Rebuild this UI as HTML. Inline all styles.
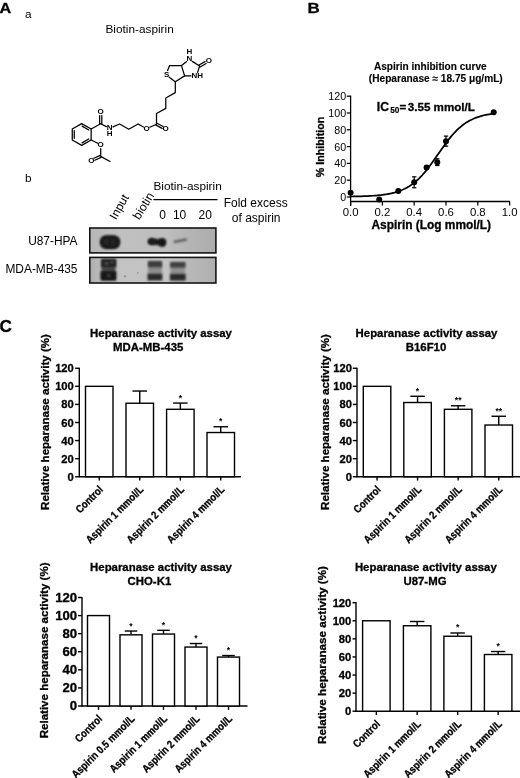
<!DOCTYPE html>
<html><head><meta charset="utf-8"><title>Figure</title>
<style>
html,body{margin:0;padding:0;background:#fff;}
svg{display:block;}
svg text{font-family:"Liberation Sans", Arial, sans-serif;fill:#000;}
</style></head><body>
<svg width="520" height="778" viewBox="0 0 520 778">
<rect width="520" height="778" fill="#fff"/>
<text transform="translate(-0.50 13.20) rotate(0) scale(1.08 1)" font-size="15" font-weight="bold" text-anchor="start" stroke="#000" stroke-width="0.3">A</text>
<text transform="translate(307.40 13.20) rotate(0) scale(1.1 1)" font-size="15.4" font-weight="bold" text-anchor="start" stroke="#000" stroke-width="0.3">B</text>
<text transform="translate(-0.60 332.40) rotate(0) scale(1.04 1)" font-size="16.5" font-weight="bold" text-anchor="start" stroke="#000" stroke-width="0.3">C</text>
<text x="25.00" y="17.50" font-size="11.8" font-weight="normal" text-anchor="start">a</text>
<text x="25.00" y="182.00" font-size="11.8" font-weight="normal" text-anchor="start">b</text>
<text x="105.50" y="32.50" font-size="11.8" font-weight="normal" text-anchor="start">Biotin-aspirin</text>
<path d="M81.70 123.60 L91.14 129.05 L91.14 139.95 L81.70 145.40 L72.26 139.95 L72.26 129.05 L81.70 123.60" fill="none" stroke="#000" stroke-width="1.25" stroke-linejoin="round" stroke-linecap="round"/>
<path d="M82.09 126.13 L88.75 129.98" fill="none" stroke="#000" stroke-width="1.25" stroke-linejoin="round" stroke-linecap="round"/>
<path d="M88.75 139.02 L82.09 142.87" fill="none" stroke="#000" stroke-width="1.25" stroke-linejoin="round" stroke-linecap="round"/>
<path d="M74.26 138.35 L74.26 130.65" fill="none" stroke="#000" stroke-width="1.25" stroke-linejoin="round" stroke-linecap="round"/>
<path d="M91.14 129.05 L100.70 123.80" fill="none" stroke="#000" stroke-width="1.25" stroke-linejoin="round" stroke-linecap="round"/>
<path d="M99.60 123.80 L99.60 115.60" fill="none" stroke="#000" stroke-width="1.25" stroke-linejoin="round" stroke-linecap="round"/>
<path d="M101.80 123.80 L101.80 115.60" fill="none" stroke="#000" stroke-width="1.25" stroke-linejoin="round" stroke-linecap="round"/>
<text x="100.70" y="114.10" font-size="8.0" font-weight="bold" text-anchor="middle">O</text>
<path d="M100.70 123.80 L106.30 126.60" fill="none" stroke="#000" stroke-width="1.25" stroke-linejoin="round" stroke-linecap="round"/>
<text x="109.70" y="129.80" font-size="8.0" font-weight="bold" text-anchor="middle">N</text>
<text x="109.70" y="136.30" font-size="8.0" font-weight="bold" text-anchor="middle">H</text>
<path d="M113.00 126.90 L119.60 124.00 L128.80 129.20 L138.10 124.00 L143.40 127.00" fill="none" stroke="#000" stroke-width="1.25" stroke-linejoin="round" stroke-linecap="round"/>
<text x="146.60" y="130.80" font-size="8.0" font-weight="bold" text-anchor="middle">O</text>
<path d="M91.14 139.95 L97.80 143.30" fill="none" stroke="#000" stroke-width="1.25" stroke-linejoin="round" stroke-linecap="round"/>
<text x="100.70" y="146.80" font-size="8.0" font-weight="bold" text-anchor="middle">O</text>
<path d="M100.70 148.60 L100.70 156.40 L110.00 161.50" fill="none" stroke="#000" stroke-width="1.25" stroke-linejoin="round" stroke-linecap="round"/>
<path d="M101.15 157.40 L94.75 160.30" fill="none" stroke="#000" stroke-width="1.25" stroke-linejoin="round" stroke-linecap="round"/>
<path d="M100.25 155.40 L93.85 158.30" fill="none" stroke="#000" stroke-width="1.25" stroke-linejoin="round" stroke-linecap="round"/>
<text x="91.40" y="163.20" font-size="8.0" font-weight="bold" text-anchor="middle">O</text>
<path d="M149.80 127.20 L156.50 124.20 L156.50 113.50 L165.80 108.40 L165.80 98.00 L175.30 92.60 L175.30 81.70" fill="none" stroke="#000" stroke-width="1.25" stroke-linejoin="round" stroke-linecap="round"/>
<path d="M157.01 123.23 L163.11 126.43" fill="none" stroke="#000" stroke-width="1.25" stroke-linejoin="round" stroke-linecap="round"/>
<path d="M155.99 125.17 L162.09 128.37" fill="none" stroke="#000" stroke-width="1.25" stroke-linejoin="round" stroke-linecap="round"/>
<text x="165.60" y="131.00" font-size="8.0" font-weight="bold" text-anchor="middle">O</text>
<path d="M175.30 81.70 L169.20 77.20" fill="none" stroke="#000" stroke-width="1.25" stroke-linejoin="round" stroke-linecap="round"/>
<text x="166.60" y="76.80" font-size="8.0" font-weight="bold" text-anchor="middle">S</text>
<path d="M167.60 70.60 L169.60 65.60 L181.50 65.60 L184.60 75.90 L175.30 81.70" fill="none" stroke="#000" stroke-width="1.25" stroke-linejoin="round" stroke-linecap="round"/>
<path d="M181.50 65.60 L186.40 61.70" fill="none" stroke="#000" stroke-width="1.25" stroke-linejoin="round" stroke-linecap="round"/>
<text x="189.30" y="61.40" font-size="8.0" font-weight="bold" text-anchor="middle">N</text>
<text x="189.30" y="53.60" font-size="8.0" font-weight="bold" text-anchor="middle">H</text>
<path d="M192.20 61.40 L199.60 66.00 L197.60 72.40" fill="none" stroke="#000" stroke-width="1.25" stroke-linejoin="round" stroke-linecap="round"/>
<path d="M199.06 65.04 L205.06 61.64" fill="none" stroke="#000" stroke-width="1.25" stroke-linejoin="round" stroke-linecap="round"/>
<path d="M200.14 66.96 L206.14 63.56" fill="none" stroke="#000" stroke-width="1.25" stroke-linejoin="round" stroke-linecap="round"/>
<text x="208.90" y="63.00" font-size="8.0" font-weight="bold" text-anchor="middle">O</text>
<path d="M184.60 75.90 L191.00 75.90" fill="none" stroke="#000" stroke-width="1.25" stroke-linejoin="round" stroke-linecap="round"/>
<text x="197.20" y="78.10" font-size="8.0" font-weight="bold" text-anchor="middle">NH</text>
<defs>
<filter id="b1" filterUnits="userSpaceOnUse" x="80" y="220" width="150" height="70"><feGaussianBlur stdDeviation="1.25"/></filter>
<filter id="b2" filterUnits="userSpaceOnUse" x="80" y="220" width="150" height="70"><feGaussianBlur stdDeviation="0.85"/></filter>
<filter id="b3" filterUnits="userSpaceOnUse" x="80" y="220" width="150" height="70"><feGaussianBlur stdDeviation="0.55"/></filter>
<linearGradient id="g1" x1="0" x2="1" y1="0" y2="0"><stop offset="0" stop-color="#b6b6b6"/><stop offset="0.25" stop-color="#c0c0c0"/><stop offset="0.6" stop-color="#bebebe"/><stop offset="0.8" stop-color="#b4b4b4"/><stop offset="1" stop-color="#adadad"/></linearGradient>
<linearGradient id="g2" x1="0" x2="1" y1="0" y2="0"><stop offset="0" stop-color="#adadad"/><stop offset="0.12" stop-color="#c2c2c2"/><stop offset="0.6" stop-color="#c4c4c4"/><stop offset="0.8" stop-color="#b8b8b8"/><stop offset="1" stop-color="#b0b0b0"/></linearGradient>
<clipPath id="c1"><rect x="90" y="228" width="126" height="25"/></clipPath>
<clipPath id="c2"><rect x="90" y="257.3" width="126" height="25.7"/></clipPath>
</defs>
<rect x="89.7" y="228" width="126.3" height="25" fill="url(#g1)"/>
<g clip-path="url(#c1)">
<rect x="99.9" y="235.3" width="20.2" height="13.6" rx="6.4" ry="6" fill="#161616" filter="url(#b1)"/>
<rect x="101.4" y="236.9" width="17.4" height="10.8" rx="5.4" ry="5" fill="#1c1c1c" filter="url(#b2)"/>
<ellipse cx="106.5" cy="242" rx="1.1" ry="3.4" fill="#2e2e2e" filter="url(#b2)"/>
<ellipse cx="112.5" cy="242" rx="1.1" ry="3.4" fill="#2c2c2c" filter="url(#b2)"/>
<path d="M151 241.7 L162.5 242.4" stroke="#1b1b1b" stroke-width="6.2" stroke-linecap="round" fill="none" filter="url(#b2)"/>
<ellipse cx="151.8" cy="241.6" rx="3.4" ry="3.0" fill="#1a1a1a" filter="url(#b2)"/>
<ellipse cx="162.3" cy="242.5" rx="3.6" ry="4.2" fill="#171717" filter="url(#b2)"/>
<path d="M174.6 241.9 L185.8 239.7" stroke="#555" stroke-width="2.3" stroke-linecap="round" fill="none" filter="url(#b2)"/>
</g>
<rect x="89.8" y="228.0" width="126.1" height="24.9" fill="none" stroke="#141414" stroke-width="1.6"/>
<rect x="89.7" y="257.3" width="126.3" height="25.7" fill="url(#g2)"/>
<g clip-path="url(#c2)">
<rect x="101.5" y="259.5" width="14" height="21" fill="#4a4a4a" filter="url(#b1)"/>
<rect x="101.3" y="259" width="14.8" height="8.2" fill="#242424" filter="url(#b1)"/>
<rect x="100.6" y="271.2" width="15.6" height="9" fill="#161616" filter="url(#b1)"/>
<rect x="104.5" y="262.3" width="4" height="2.2" fill="#5c5c5c" filter="url(#b2)"/>
<rect x="110.5" y="261" width="3" height="2.2" fill="#555" filter="url(#b2)"/>
<rect x="107" y="274.5" width="3.4" height="2.4" fill="#4a4a4a" filter="url(#b2)"/>
<circle cx="125" cy="276.2" r="1" fill="#8a8a8a" filter="url(#b3)"/>
<circle cx="137.8" cy="272.8" r="0.9" fill="#9a9a9a" filter="url(#b3)"/>
<rect x="148" y="262" width="14" height="17" fill="#8e8e8e" filter="url(#b1)"/>
<rect x="148" y="261" width="14" height="6.2" fill="#3e3e3e" filter="url(#b1)"/>
<rect x="147.6" y="273.8" width="14.6" height="6.6" fill="#2c2c2c" filter="url(#b1)"/>
<rect x="170.5" y="263" width="14.5" height="16" fill="#909090" filter="url(#b1)"/>
<rect x="170.2" y="262" width="15.2" height="5.6" fill="#404040" filter="url(#b1)"/>
<rect x="170" y="274" width="15.6" height="6.6" fill="#2c2c2c" filter="url(#b1)"/>
</g>
<rect x="89.8" y="257.4" width="126.1" height="25.6" fill="none" stroke="#141414" stroke-width="1.6"/>
<text x="77.50" y="244.50" font-size="11.9" font-weight="normal" text-anchor="end">U87-HPA</text>
<text x="77.50" y="273.30" font-size="11.9" font-weight="normal" text-anchor="end">MDA-MB-435</text>
<text x="153.50" y="190.00" font-size="11.8" font-weight="normal" text-anchor="start">Biotin-aspirin</text>
<line x1="153.40" y1="199.70" x2="217.50" y2="199.70" stroke="#000" stroke-width="1.3"/>
<text x="162.70" y="218.50" font-size="12" font-weight="normal" text-anchor="middle">0</text>
<text x="179.60" y="218.50" font-size="12" font-weight="normal" text-anchor="middle">10</text>
<text x="205.20" y="218.50" font-size="12" font-weight="normal" text-anchor="middle">20</text>
<text x="223.70" y="207.40" font-size="12" font-weight="normal" text-anchor="start">Fold excess</text>
<text x="231.80" y="221.50" font-size="12" font-weight="normal" text-anchor="start">of aspirin</text>
<text transform="translate(116.00 220.40) rotate(-60)" font-size="12" font-weight="normal" text-anchor="start">Input</text>
<text transform="translate(139.20 220.40) rotate(-58.5)" font-size="12.2" font-weight="normal" text-anchor="start">biotin</text>
<line x1="350.60" y1="95.60" x2="350.60" y2="205.80" stroke="#000" stroke-width="1.3"/>
<line x1="346.80" y1="197.00" x2="350.60" y2="197.00" stroke="#000" stroke-width="1.25"/>
<text x="346.20" y="200.90" font-size="10.7" font-weight="normal" text-anchor="end">0</text>
<line x1="346.80" y1="180.20" x2="350.60" y2="180.20" stroke="#000" stroke-width="1.25"/>
<text x="346.20" y="184.10" font-size="10.7" font-weight="normal" text-anchor="end">20</text>
<line x1="346.80" y1="163.40" x2="350.60" y2="163.40" stroke="#000" stroke-width="1.25"/>
<text x="346.20" y="167.30" font-size="10.7" font-weight="normal" text-anchor="end">40</text>
<line x1="346.80" y1="146.60" x2="350.60" y2="146.60" stroke="#000" stroke-width="1.25"/>
<text x="346.20" y="150.50" font-size="10.7" font-weight="normal" text-anchor="end">60</text>
<line x1="346.80" y1="129.80" x2="350.60" y2="129.80" stroke="#000" stroke-width="1.25"/>
<text x="346.20" y="133.70" font-size="10.7" font-weight="normal" text-anchor="end">80</text>
<line x1="346.80" y1="113.00" x2="350.60" y2="113.00" stroke="#000" stroke-width="1.25"/>
<text x="346.20" y="116.90" font-size="10.7" font-weight="normal" text-anchor="end">100</text>
<line x1="346.80" y1="96.20" x2="350.60" y2="96.20" stroke="#000" stroke-width="1.25"/>
<text x="346.20" y="100.10" font-size="10.7" font-weight="normal" text-anchor="end">120</text>
<line x1="350.00" y1="201.50" x2="510.00" y2="201.50" stroke="#000" stroke-width="1.3"/>
<line x1="350.60" y1="201.50" x2="350.60" y2="205.50" stroke="#000" stroke-width="1.25"/>
<text x="350.60" y="216.10" font-size="11.4" font-weight="normal" text-anchor="middle">0.0</text>
<line x1="382.40" y1="201.50" x2="382.40" y2="205.50" stroke="#000" stroke-width="1.25"/>
<text x="382.40" y="216.10" font-size="11.4" font-weight="normal" text-anchor="middle">0.2</text>
<line x1="414.20" y1="201.50" x2="414.20" y2="205.50" stroke="#000" stroke-width="1.25"/>
<text x="414.20" y="216.10" font-size="11.4" font-weight="normal" text-anchor="middle">0.4</text>
<line x1="446.00" y1="201.50" x2="446.00" y2="205.50" stroke="#000" stroke-width="1.25"/>
<text x="446.00" y="216.10" font-size="11.4" font-weight="normal" text-anchor="middle">0.6</text>
<line x1="477.80" y1="201.50" x2="477.80" y2="205.50" stroke="#000" stroke-width="1.25"/>
<text x="477.80" y="216.10" font-size="11.4" font-weight="normal" text-anchor="middle">0.8</text>
<line x1="509.60" y1="201.50" x2="509.60" y2="205.50" stroke="#000" stroke-width="1.25"/>
<text x="509.60" y="216.10" font-size="11.4" font-weight="normal" text-anchor="middle">1.0</text>
<text x="431.30" y="229.30" font-size="11.9" font-weight="bold" text-anchor="middle" stroke="#000" stroke-width="0.3">Aspirin (Log mmol/L)</text>
<text transform="translate(324.20 147.00) rotate(-90)" font-size="10.7" font-weight="bold" text-anchor="middle" stroke="#000" stroke-width="0.3">% Inhibition</text>
<text x="430.30" y="70.00" font-size="10.1" font-weight="bold" text-anchor="middle" stroke="#000" stroke-width="0.12">Aspirin inhibition curve</text>
<text x="435.80" y="82.30" font-size="10.15" font-weight="bold" text-anchor="middle" stroke="#000" stroke-width="0.12">(Heparanase ≈ 18.75 μg/mL)</text>
<text x="376.80" y="110.90" font-size="12.2" font-weight="bold" text-anchor="start" stroke="#000" stroke-width="0.3">IC</text>
<text x="390.20" y="113.40" font-size="8.3" font-weight="bold" text-anchor="start" stroke="#000" stroke-width="0.15">50</text>
<text x="399.40" y="110.90" font-size="11.5" font-weight="bold" text-anchor="start" stroke="#000" stroke-width="0.3">=</text>
<text x="407.80" y="110.90" font-size="11.6" font-weight="bold" text-anchor="start" stroke="#000" stroke-width="0.3">3.55 mmol/L</text>
<path d="M350.60 196.53 L352.19 196.50 L353.78 196.47 L355.37 196.44 L356.96 196.41 L358.55 196.37 L360.14 196.33 L361.73 196.28 L363.32 196.23 L364.91 196.17 L366.50 196.10 L368.09 196.03 L369.68 195.95 L371.27 195.85 L372.86 195.75 L374.45 195.64 L376.04 195.52 L377.63 195.38 L379.22 195.23 L380.81 195.05 L382.40 194.87 L383.99 194.66 L385.58 194.42 L387.17 194.17 L388.76 193.88 L390.35 193.56 L391.94 193.22 L393.53 192.83 L395.12 192.41 L396.71 191.94 L398.30 191.42 L399.89 190.86 L401.48 190.23 L403.07 189.55 L404.66 188.81 L406.25 187.99 L407.84 187.11 L409.43 186.14 L411.02 185.10 L412.61 183.96 L414.20 182.74 L415.79 181.43 L417.38 180.02 L418.97 178.52 L420.56 176.93 L422.15 175.23 L423.74 173.45 L425.33 171.57 L426.92 169.62 L428.51 167.58 L430.10 165.47 L431.69 163.30 L433.28 161.08 L434.87 158.83 L436.46 156.54 L438.05 154.24 L439.64 151.95 L441.23 149.66 L442.82 147.40 L444.41 145.19 L446.00 143.02 L447.59 140.91 L449.18 138.87 L450.77 136.91 L452.36 135.04 L453.95 133.25 L455.54 131.56 L457.13 129.96 L458.72 128.46 L460.31 127.06 L461.90 125.74 L463.49 124.52 L465.08 123.39 L466.67 122.35 L468.26 121.38 L469.85 120.50 L471.44 119.68 L473.03 118.94 L474.62 118.25 L476.21 117.63 L477.80 117.07 L479.39 116.55 L480.98 116.08 L482.57 115.66 L484.16 115.27 L485.75 114.92 L487.34 114.61 L488.93 114.32 L490.52 114.06 L492.11 113.83 L493.70 113.62" fill="none" stroke="#000" stroke-width="1.75" stroke-linejoin="round" stroke-linecap="round"/>
<circle cx="350.60" cy="192.80" r="3.0" fill="#000"/>
<circle cx="379.22" cy="199.52" r="3.0" fill="#000"/>
<circle cx="398.30" cy="191.12" r="3.0" fill="#000"/>
<line x1="414.20" y1="176.84" x2="414.20" y2="187.76" stroke="#000" stroke-width="1.2"/>
<line x1="412.00" y1="176.84" x2="416.40" y2="176.84" stroke="#000" stroke-width="1.2"/>
<line x1="412.00" y1="187.76" x2="416.40" y2="187.76" stroke="#000" stroke-width="1.2"/>
<circle cx="414.20" cy="182.30" r="3.0" fill="#000"/>
<line x1="426.60" y1="165.92" x2="426.60" y2="169.28" stroke="#000" stroke-width="1.2"/>
<line x1="424.40" y1="165.92" x2="428.80" y2="165.92" stroke="#000" stroke-width="1.2"/>
<line x1="424.40" y1="169.28" x2="428.80" y2="169.28" stroke="#000" stroke-width="1.2"/>
<circle cx="426.60" cy="167.60" r="3.0" fill="#000"/>
<line x1="437.25" y1="158.78" x2="437.25" y2="165.50" stroke="#000" stroke-width="1.2"/>
<line x1="435.06" y1="158.78" x2="439.45" y2="158.78" stroke="#000" stroke-width="1.2"/>
<line x1="435.06" y1="165.50" x2="439.45" y2="165.50" stroke="#000" stroke-width="1.2"/>
<circle cx="437.25" cy="162.14" r="3.0" fill="#000"/>
<line x1="446.00" y1="136.10" x2="446.00" y2="146.18" stroke="#000" stroke-width="1.2"/>
<line x1="443.80" y1="136.10" x2="448.20" y2="136.10" stroke="#000" stroke-width="1.2"/>
<line x1="443.80" y1="146.18" x2="448.20" y2="146.18" stroke="#000" stroke-width="1.2"/>
<circle cx="446.00" cy="141.14" r="3.0" fill="#000"/>
<circle cx="493.70" cy="112.33" r="3.0" fill="#000"/>
<line x1="79.30" y1="367.65" x2="79.30" y2="477.35" stroke="#000" stroke-width="1.4"/>
<line x1="75.10" y1="476.75" x2="79.30" y2="476.75" stroke="#000" stroke-width="1.4"/>
<text transform="translate(73.80 480.78) rotate(0) scale(1.0 1)" font-size="11.2" font-weight="bold" text-anchor="end" stroke="#000" stroke-width="0.3">0</text>
<line x1="75.10" y1="458.67" x2="79.30" y2="458.67" stroke="#000" stroke-width="1.4"/>
<text transform="translate(73.80 462.70) rotate(0) scale(1.0 1)" font-size="11.2" font-weight="bold" text-anchor="end" stroke="#000" stroke-width="0.3">20</text>
<line x1="75.10" y1="440.58" x2="79.30" y2="440.58" stroke="#000" stroke-width="1.4"/>
<text transform="translate(73.80 444.61) rotate(0) scale(1.0 1)" font-size="11.2" font-weight="bold" text-anchor="end" stroke="#000" stroke-width="0.3">40</text>
<line x1="75.10" y1="422.50" x2="79.30" y2="422.50" stroke="#000" stroke-width="1.4"/>
<text transform="translate(73.80 426.53) rotate(0) scale(1.0 1)" font-size="11.2" font-weight="bold" text-anchor="end" stroke="#000" stroke-width="0.3">60</text>
<line x1="75.10" y1="404.41" x2="79.30" y2="404.41" stroke="#000" stroke-width="1.4"/>
<text transform="translate(73.80 408.45) rotate(0) scale(1.0 1)" font-size="11.2" font-weight="bold" text-anchor="end" stroke="#000" stroke-width="0.3">80</text>
<line x1="75.10" y1="386.33" x2="79.30" y2="386.33" stroke="#000" stroke-width="1.4"/>
<text transform="translate(73.80 390.36) rotate(0) scale(1.0 1)" font-size="11.2" font-weight="bold" text-anchor="end" stroke="#000" stroke-width="0.3">100</text>
<line x1="75.10" y1="368.25" x2="79.30" y2="368.25" stroke="#000" stroke-width="1.4"/>
<text transform="translate(73.80 372.28) rotate(0) scale(1.0 1)" font-size="11.2" font-weight="bold" text-anchor="end" stroke="#000" stroke-width="0.3">120</text>
<line x1="78.70" y1="476.75" x2="241.00" y2="476.75" stroke="#000" stroke-width="1.4"/>
<rect x="85.50" y="386.33" width="27.50" height="90.42" fill="#fff" stroke="#000" stroke-width="1.4"/>
<line x1="99.25" y1="476.75" x2="99.25" y2="480.55" stroke="#000" stroke-width="1.4"/>
<text transform="translate(103.65 490.25) rotate(-45) scale(0.87 1)" font-size="10.8" font-weight="bold" text-anchor="end" stroke="#000" stroke-width="0.3">Control</text>
<line x1="139.75" y1="391.03" x2="139.75" y2="403.24" stroke="#000" stroke-width="1.4"/>
<line x1="132.50" y1="391.03" x2="147.00" y2="391.03" stroke="#000" stroke-width="1.4"/>
<rect x="126.00" y="403.24" width="27.50" height="73.51" fill="#fff" stroke="#000" stroke-width="1.4"/>
<line x1="139.75" y1="476.75" x2="139.75" y2="480.55" stroke="#000" stroke-width="1.4"/>
<text transform="translate(144.15 490.25) rotate(-45) scale(0.87 1)" font-size="10.8" font-weight="bold" text-anchor="end" stroke="#000" stroke-width="0.3">Aspirin 1 mmol/L</text>
<line x1="180.35" y1="403.06" x2="180.35" y2="409.30" stroke="#000" stroke-width="1.4"/>
<line x1="173.10" y1="403.06" x2="187.60" y2="403.06" stroke="#000" stroke-width="1.4"/>
<rect x="166.60" y="409.30" width="27.50" height="67.45" fill="#fff" stroke="#000" stroke-width="1.4"/>
<text x="180.35" y="400.56" font-size="8.6" font-weight="bold" text-anchor="middle" stroke="none">*</text>
<line x1="180.35" y1="476.75" x2="180.35" y2="480.55" stroke="#000" stroke-width="1.4"/>
<text transform="translate(184.75 490.25) rotate(-45) scale(0.87 1)" font-size="10.8" font-weight="bold" text-anchor="end" stroke="#000" stroke-width="0.3">Aspirin 2 mmol/L</text>
<line x1="220.75" y1="426.75" x2="220.75" y2="432.53" stroke="#000" stroke-width="1.4"/>
<line x1="213.50" y1="426.75" x2="228.00" y2="426.75" stroke="#000" stroke-width="1.4"/>
<rect x="207.00" y="432.53" width="27.50" height="44.22" fill="#fff" stroke="#000" stroke-width="1.4"/>
<text x="220.75" y="424.25" font-size="8.6" font-weight="bold" text-anchor="middle" stroke="none">*</text>
<line x1="220.75" y1="476.75" x2="220.75" y2="480.55" stroke="#000" stroke-width="1.4"/>
<text transform="translate(225.15 490.25) rotate(-45) scale(0.87 1)" font-size="10.8" font-weight="bold" text-anchor="end" stroke="#000" stroke-width="0.3">Aspirin 4 mmol/L</text>
<text x="161.00" y="337.00" font-size="11.4" font-weight="bold" text-anchor="middle" stroke="#000" stroke-width="0.3">Heparanase activity assay</text>
<text x="148.20" y="350.50" font-size="11.4" font-weight="bold" text-anchor="middle" stroke="#000" stroke-width="0.3">MDA-MB-435</text>
<text transform="translate(49.30 422.00) rotate(-90)" font-size="11.55" font-weight="bold" text-anchor="middle" stroke="#000" stroke-width="0.3">Relative heparanase activity (%)</text>
<line x1="357.00" y1="367.65" x2="357.00" y2="477.35" stroke="#000" stroke-width="1.4"/>
<line x1="352.80" y1="476.75" x2="357.00" y2="476.75" stroke="#000" stroke-width="1.4"/>
<text transform="translate(352.00 480.78) rotate(0) scale(1.0 1)" font-size="11.2" font-weight="bold" text-anchor="end" stroke="#000" stroke-width="0.3">0</text>
<line x1="352.80" y1="458.67" x2="357.00" y2="458.67" stroke="#000" stroke-width="1.4"/>
<text transform="translate(352.00 462.70) rotate(0) scale(1.0 1)" font-size="11.2" font-weight="bold" text-anchor="end" stroke="#000" stroke-width="0.3">20</text>
<line x1="352.80" y1="440.58" x2="357.00" y2="440.58" stroke="#000" stroke-width="1.4"/>
<text transform="translate(352.00 444.61) rotate(0) scale(1.0 1)" font-size="11.2" font-weight="bold" text-anchor="end" stroke="#000" stroke-width="0.3">40</text>
<line x1="352.80" y1="422.50" x2="357.00" y2="422.50" stroke="#000" stroke-width="1.4"/>
<text transform="translate(352.00 426.53) rotate(0) scale(1.0 1)" font-size="11.2" font-weight="bold" text-anchor="end" stroke="#000" stroke-width="0.3">60</text>
<line x1="352.80" y1="404.41" x2="357.00" y2="404.41" stroke="#000" stroke-width="1.4"/>
<text transform="translate(352.00 408.45) rotate(0) scale(1.0 1)" font-size="11.2" font-weight="bold" text-anchor="end" stroke="#000" stroke-width="0.3">80</text>
<line x1="352.80" y1="386.33" x2="357.00" y2="386.33" stroke="#000" stroke-width="1.4"/>
<text transform="translate(352.00 390.36) rotate(0) scale(1.0 1)" font-size="11.2" font-weight="bold" text-anchor="end" stroke="#000" stroke-width="0.3">100</text>
<line x1="352.80" y1="368.25" x2="357.00" y2="368.25" stroke="#000" stroke-width="1.4"/>
<text transform="translate(352.00 372.28) rotate(0) scale(1.0 1)" font-size="11.2" font-weight="bold" text-anchor="end" stroke="#000" stroke-width="0.3">120</text>
<line x1="356.40" y1="476.75" x2="520.00" y2="476.75" stroke="#000" stroke-width="1.4"/>
<rect x="363.30" y="386.33" width="27.50" height="90.42" fill="#fff" stroke="#000" stroke-width="1.4"/>
<line x1="377.05" y1="476.75" x2="377.05" y2="480.55" stroke="#000" stroke-width="1.4"/>
<text transform="translate(381.45 490.25) rotate(-45) scale(0.87 1)" font-size="10.8" font-weight="bold" text-anchor="end" stroke="#000" stroke-width="0.3">Control</text>
<line x1="417.55" y1="396.28" x2="417.55" y2="402.52" stroke="#000" stroke-width="1.4"/>
<line x1="410.30" y1="396.28" x2="424.80" y2="396.28" stroke="#000" stroke-width="1.4"/>
<rect x="403.80" y="402.52" width="27.50" height="74.23" fill="#fff" stroke="#000" stroke-width="1.4"/>
<text x="417.55" y="393.78" font-size="8.6" font-weight="bold" text-anchor="middle" stroke="none">*</text>
<line x1="417.55" y1="476.75" x2="417.55" y2="480.55" stroke="#000" stroke-width="1.4"/>
<text transform="translate(421.95 490.25) rotate(-45) scale(0.87 1)" font-size="10.8" font-weight="bold" text-anchor="end" stroke="#000" stroke-width="0.3">Aspirin 1 mmol/L</text>
<line x1="458.15" y1="405.77" x2="458.15" y2="409.30" stroke="#000" stroke-width="1.4"/>
<line x1="450.90" y1="405.77" x2="465.40" y2="405.77" stroke="#000" stroke-width="1.4"/>
<rect x="444.40" y="409.30" width="27.50" height="67.45" fill="#fff" stroke="#000" stroke-width="1.4"/>
<text x="458.15" y="403.27" font-size="8.6" font-weight="bold" text-anchor="middle" stroke="none">**</text>
<line x1="458.15" y1="476.75" x2="458.15" y2="480.55" stroke="#000" stroke-width="1.4"/>
<text transform="translate(462.55 490.25) rotate(-45) scale(0.87 1)" font-size="10.8" font-weight="bold" text-anchor="end" stroke="#000" stroke-width="0.3">Aspirin 2 mmol/L</text>
<line x1="498.75" y1="416.26" x2="498.75" y2="425.03" stroke="#000" stroke-width="1.4"/>
<line x1="491.50" y1="416.26" x2="506.00" y2="416.26" stroke="#000" stroke-width="1.4"/>
<rect x="485.00" y="425.03" width="27.50" height="51.72" fill="#fff" stroke="#000" stroke-width="1.4"/>
<text x="498.75" y="413.76" font-size="8.6" font-weight="bold" text-anchor="middle" stroke="none">**</text>
<line x1="498.75" y1="476.75" x2="498.75" y2="480.55" stroke="#000" stroke-width="1.4"/>
<text transform="translate(503.15 490.25) rotate(-45) scale(0.87 1)" font-size="10.8" font-weight="bold" text-anchor="end" stroke="#000" stroke-width="0.3">Aspirin 4 mmol/L</text>
<text x="426.50" y="337.00" font-size="11.4" font-weight="bold" text-anchor="middle" stroke="#000" stroke-width="0.3">Heparanase activity assay</text>
<text x="426.00" y="350.50" font-size="11.4" font-weight="bold" text-anchor="middle" stroke="#000" stroke-width="0.3">B16F10</text>
<text transform="translate(328.80 422.00) rotate(-90)" font-size="11.55" font-weight="bold" text-anchor="middle" stroke="#000" stroke-width="0.3">Relative heparanase activity (%)</text>
<line x1="82.00" y1="596.90" x2="82.00" y2="706.60" stroke="#000" stroke-width="1.4"/>
<line x1="78.00" y1="706.00" x2="82.00" y2="706.00" stroke="#000" stroke-width="1.4"/>
<text transform="translate(77.20 710.39) rotate(0) scale(1.08 1)" font-size="12.2" font-weight="bold" text-anchor="end" stroke="#000" stroke-width="0.3">0</text>
<line x1="78.00" y1="687.92" x2="82.00" y2="687.92" stroke="#000" stroke-width="1.4"/>
<text transform="translate(77.20 692.31) rotate(0) scale(1.08 1)" font-size="12.2" font-weight="bold" text-anchor="end" stroke="#000" stroke-width="0.3">20</text>
<line x1="78.00" y1="669.83" x2="82.00" y2="669.83" stroke="#000" stroke-width="1.4"/>
<text transform="translate(77.20 674.22) rotate(0) scale(1.08 1)" font-size="12.2" font-weight="bold" text-anchor="end" stroke="#000" stroke-width="0.3">40</text>
<line x1="78.00" y1="651.75" x2="82.00" y2="651.75" stroke="#000" stroke-width="1.4"/>
<text transform="translate(77.20 656.14) rotate(0) scale(1.08 1)" font-size="12.2" font-weight="bold" text-anchor="end" stroke="#000" stroke-width="0.3">60</text>
<line x1="78.00" y1="633.66" x2="82.00" y2="633.66" stroke="#000" stroke-width="1.4"/>
<text transform="translate(77.20 638.06) rotate(0) scale(1.08 1)" font-size="12.2" font-weight="bold" text-anchor="end" stroke="#000" stroke-width="0.3">80</text>
<line x1="78.00" y1="615.58" x2="82.00" y2="615.58" stroke="#000" stroke-width="1.4"/>
<text transform="translate(77.20 619.97) rotate(0) scale(1.08 1)" font-size="12.2" font-weight="bold" text-anchor="end" stroke="#000" stroke-width="0.3">100</text>
<line x1="78.00" y1="597.50" x2="82.00" y2="597.50" stroke="#000" stroke-width="1.4"/>
<text transform="translate(77.20 601.89) rotate(0) scale(1.08 1)" font-size="12.2" font-weight="bold" text-anchor="end" stroke="#000" stroke-width="0.3">120</text>
<line x1="81.40" y1="706.00" x2="247.50" y2="706.00" stroke="#000" stroke-width="1.4"/>
<rect x="87.50" y="615.58" width="22.00" height="90.42" fill="#fff" stroke="#000" stroke-width="1.4"/>
<line x1="98.50" y1="706.00" x2="98.50" y2="709.80" stroke="#000" stroke-width="1.4"/>
<text transform="translate(102.90 719.50) rotate(-45) scale(0.87 1)" font-size="10.8" font-weight="bold" text-anchor="end" stroke="#000" stroke-width="0.3">Control</text>
<line x1="131.00" y1="631.04" x2="131.00" y2="634.84" stroke="#000" stroke-width="1.4"/>
<line x1="124.75" y1="631.04" x2="137.25" y2="631.04" stroke="#000" stroke-width="1.4"/>
<rect x="120.00" y="634.84" width="22.00" height="71.16" fill="#fff" stroke="#000" stroke-width="1.4"/>
<text x="131.00" y="628.54" font-size="8.6" font-weight="bold" text-anchor="middle" stroke="none">*</text>
<line x1="131.00" y1="706.00" x2="131.00" y2="709.80" stroke="#000" stroke-width="1.4"/>
<text transform="translate(135.40 719.50) rotate(-45) scale(0.87 1)" font-size="10.8" font-weight="bold" text-anchor="end" stroke="#000" stroke-width="0.3">Aspirin 0.5 mmol/L</text>
<line x1="163.50" y1="630.32" x2="163.50" y2="634.03" stroke="#000" stroke-width="1.4"/>
<line x1="157.25" y1="630.32" x2="169.75" y2="630.32" stroke="#000" stroke-width="1.4"/>
<rect x="152.50" y="634.03" width="22.00" height="71.97" fill="#fff" stroke="#000" stroke-width="1.4"/>
<text x="163.50" y="627.82" font-size="8.6" font-weight="bold" text-anchor="middle" stroke="none">*</text>
<line x1="163.50" y1="706.00" x2="163.50" y2="709.80" stroke="#000" stroke-width="1.4"/>
<text transform="translate(167.90 719.50) rotate(-45) scale(0.87 1)" font-size="10.8" font-weight="bold" text-anchor="end" stroke="#000" stroke-width="0.3">Aspirin 1 mmol/L</text>
<line x1="196.00" y1="643.52" x2="196.00" y2="647.05" stroke="#000" stroke-width="1.4"/>
<line x1="189.75" y1="643.52" x2="202.25" y2="643.52" stroke="#000" stroke-width="1.4"/>
<rect x="185.00" y="647.05" width="22.00" height="58.95" fill="#fff" stroke="#000" stroke-width="1.4"/>
<text x="196.00" y="641.02" font-size="8.6" font-weight="bold" text-anchor="middle" stroke="none">*</text>
<line x1="196.00" y1="706.00" x2="196.00" y2="709.80" stroke="#000" stroke-width="1.4"/>
<text transform="translate(200.40 719.50) rotate(-45) scale(0.87 1)" font-size="10.8" font-weight="bold" text-anchor="end" stroke="#000" stroke-width="0.3">Aspirin 2 mmol/L</text>
<line x1="228.50" y1="655.55" x2="228.50" y2="657.08" stroke="#000" stroke-width="1.4"/>
<line x1="222.25" y1="655.55" x2="234.75" y2="655.55" stroke="#000" stroke-width="1.4"/>
<rect x="217.50" y="657.08" width="22.00" height="48.92" fill="#fff" stroke="#000" stroke-width="1.4"/>
<text x="228.50" y="653.05" font-size="8.6" font-weight="bold" text-anchor="middle" stroke="none">*</text>
<line x1="228.50" y1="706.00" x2="228.50" y2="709.80" stroke="#000" stroke-width="1.4"/>
<text transform="translate(232.90 719.50) rotate(-45) scale(0.87 1)" font-size="10.8" font-weight="bold" text-anchor="end" stroke="#000" stroke-width="0.3">Aspirin 4 mmol/L</text>
<text x="161.00" y="570.50" font-size="11.4" font-weight="bold" text-anchor="middle" stroke="#000" stroke-width="0.3">Heparanase activity assay</text>
<text x="149.40" y="585.00" font-size="11.4" font-weight="bold" text-anchor="middle" stroke="#000" stroke-width="0.3">CHO-K1</text>
<text transform="translate(48.30 650.40) rotate(-90)" font-size="11.55" font-weight="bold" text-anchor="middle" stroke="#000" stroke-width="0.3">Relative heparanase activity (%)</text>
<line x1="356.00" y1="602.10" x2="356.00" y2="711.80" stroke="#000" stroke-width="1.4"/>
<line x1="352.50" y1="711.20" x2="356.00" y2="711.20" stroke="#000" stroke-width="1.4"/>
<text transform="translate(351.30 715.23) rotate(0) scale(1.0 1)" font-size="11.2" font-weight="bold" text-anchor="end" stroke="#000" stroke-width="0.3">0</text>
<line x1="352.50" y1="693.12" x2="356.00" y2="693.12" stroke="#000" stroke-width="1.4"/>
<text transform="translate(351.30 697.15) rotate(0) scale(1.0 1)" font-size="11.2" font-weight="bold" text-anchor="end" stroke="#000" stroke-width="0.3">20</text>
<line x1="352.50" y1="675.03" x2="356.00" y2="675.03" stroke="#000" stroke-width="1.4"/>
<text transform="translate(351.30 679.06) rotate(0) scale(1.0 1)" font-size="11.2" font-weight="bold" text-anchor="end" stroke="#000" stroke-width="0.3">40</text>
<line x1="352.50" y1="656.95" x2="356.00" y2="656.95" stroke="#000" stroke-width="1.4"/>
<text transform="translate(351.30 660.98) rotate(0) scale(1.0 1)" font-size="11.2" font-weight="bold" text-anchor="end" stroke="#000" stroke-width="0.3">60</text>
<line x1="352.50" y1="638.86" x2="356.00" y2="638.86" stroke="#000" stroke-width="1.4"/>
<text transform="translate(351.30 642.90) rotate(0) scale(1.0 1)" font-size="11.2" font-weight="bold" text-anchor="end" stroke="#000" stroke-width="0.3">80</text>
<line x1="352.50" y1="620.78" x2="356.00" y2="620.78" stroke="#000" stroke-width="1.4"/>
<text transform="translate(351.30 624.81) rotate(0) scale(1.0 1)" font-size="11.2" font-weight="bold" text-anchor="end" stroke="#000" stroke-width="0.3">100</text>
<line x1="352.50" y1="602.70" x2="356.00" y2="602.70" stroke="#000" stroke-width="1.4"/>
<text transform="translate(351.30 606.73) rotate(0) scale(1.0 1)" font-size="11.2" font-weight="bold" text-anchor="end" stroke="#000" stroke-width="0.3">120</text>
<line x1="355.40" y1="711.20" x2="520.00" y2="711.20" stroke="#000" stroke-width="1.4"/>
<rect x="362.60" y="620.78" width="27.50" height="90.42" fill="#fff" stroke="#000" stroke-width="1.4"/>
<line x1="376.35" y1="711.20" x2="376.35" y2="715.00" stroke="#000" stroke-width="1.4"/>
<text transform="translate(380.75 724.70) rotate(-45) scale(0.87 1)" font-size="10.8" font-weight="bold" text-anchor="end" stroke="#000" stroke-width="0.3">Control</text>
<line x1="417.15" y1="621.50" x2="417.15" y2="625.75" stroke="#000" stroke-width="1.4"/>
<line x1="409.90" y1="621.50" x2="424.40" y2="621.50" stroke="#000" stroke-width="1.4"/>
<rect x="403.40" y="625.75" width="27.50" height="85.45" fill="#fff" stroke="#000" stroke-width="1.4"/>
<line x1="417.15" y1="711.20" x2="417.15" y2="715.00" stroke="#000" stroke-width="1.4"/>
<text transform="translate(421.55 724.70) rotate(-45) scale(0.87 1)" font-size="10.8" font-weight="bold" text-anchor="end" stroke="#000" stroke-width="0.3">Aspirin 1 mmol/L</text>
<line x1="457.65" y1="632.99" x2="457.65" y2="636.24" stroke="#000" stroke-width="1.4"/>
<line x1="450.40" y1="632.99" x2="464.90" y2="632.99" stroke="#000" stroke-width="1.4"/>
<rect x="443.90" y="636.24" width="27.50" height="74.96" fill="#fff" stroke="#000" stroke-width="1.4"/>
<text x="457.65" y="630.49" font-size="8.6" font-weight="bold" text-anchor="middle" stroke="none">*</text>
<line x1="457.65" y1="711.20" x2="457.65" y2="715.00" stroke="#000" stroke-width="1.4"/>
<text transform="translate(462.05 724.70) rotate(-45) scale(0.87 1)" font-size="10.8" font-weight="bold" text-anchor="end" stroke="#000" stroke-width="0.3">Aspirin 2 mmol/L</text>
<line x1="498.15" y1="651.52" x2="498.15" y2="654.51" stroke="#000" stroke-width="1.4"/>
<line x1="490.90" y1="651.52" x2="505.40" y2="651.52" stroke="#000" stroke-width="1.4"/>
<rect x="484.40" y="654.51" width="27.50" height="56.69" fill="#fff" stroke="#000" stroke-width="1.4"/>
<text x="498.15" y="649.02" font-size="8.6" font-weight="bold" text-anchor="middle" stroke="none">*</text>
<line x1="498.15" y1="711.20" x2="498.15" y2="715.00" stroke="#000" stroke-width="1.4"/>
<text transform="translate(502.55 724.70) rotate(-45) scale(0.87 1)" font-size="10.8" font-weight="bold" text-anchor="end" stroke="#000" stroke-width="0.3">Aspirin 4 mmol/L</text>
<text x="425.80" y="570.50" font-size="11.4" font-weight="bold" text-anchor="middle" stroke="#000" stroke-width="0.3">Heparanase activity assay</text>
<text x="425.00" y="585.00" font-size="11.4" font-weight="bold" text-anchor="middle" stroke="#000" stroke-width="0.3">U87-MG</text>
<text transform="translate(325.90 655.00) rotate(-90)" font-size="11.7" font-weight="bold" text-anchor="middle" stroke="#000" stroke-width="0.3">Relative heparanase activity (%)</text>
</svg>
</body></html>
